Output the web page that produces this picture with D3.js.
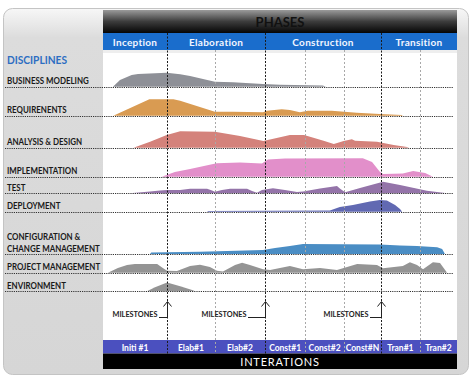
<!DOCTYPE html>
<html><head><meta charset="utf-8">
<script src="https://cdn.jsdelivr.net/npm/d3@7"></script>
<style>
html,body{margin:0;padding:0;background:#fff;}
svg{display:block;font-family:Lato,"Open Sans",sans-serif;}
</style></head>
<body><svg id="c" width="474" height="383"></svg>
<script>
// ---------- DATA ----------
const phases = ["Inception","Elaboration","Construction","Transition"];
const phaseBounds = [0, 18.1, 45.8, 78.5, 100];           // time units
const iterations = ["Initi #1","Elab#1","Elab#2","Const#1","Const#2","Const#N","Tran#1","Tran#2"];
const iterationBounds = [0, 18.1, 31.6, 45.8, 57.1, 68.1, 78.5, 89.5, 100];
const milestones = [18.1, 45.8, 78.5];
const disciplines = ["BUSINESS MODELING","REQUIRENENTS","ANALYSIS & DESIGN","IMPLEMENTATION","TEST","DEPLOYMENT","CONFIGURATION &\nCHANGE MANAGEMENT","PROJECT MANAGEMENT","ENVIRONMENT"];
const colors = ["#8e9097","#d99b52","#d4827b","#e28fca","#9474a9","#6169b2","#4a8dc4","#949494","#949494"];

// effort curves: [time, effort]
const businessModeling = [[2.8,0],[4.8,3.35],[8.1,5.85],[9.9,6.35],[18,7],[21.8,6.2],[24.6,5.35],[31.6,2.5],[36.7,2.2],[45.2,1.35],[50,1],[62.1,0.65],[63,0]];
const requirements = [[2.9,0],[13.1,8.2],[19.9,8.2],[21.8,7.5],[31.6,2],[36.7,2],[45.2,1.7],[46.3,2.5],[50.5,3.2],[52.8,2.85],[55.6,1.7],[57.9,2.5],[64.6,2.5],[71.7,1.5],[78.2,0.85],[84.4,0.35],[84.7,0]];
const analysisDesign = [[8.6,0],[13.3,3],[18,6.35],[21.8,8.2],[31.6,8],[38.7,5.85],[45.3,3.35],[50,5.2],[52.8,6.35],[56.8,6.35],[62.3,3.5],[65.2,1.85],[68,3.35],[70.3,4.2],[71.2,3.5],[77.4,3],[82.1,1.35],[85.9,0.35],[86.4,0]];
const implementation = [[16.6,0],[20.3,2.35],[24.6,3.85],[32.1,6.7],[38.7,7.1],[44.9,6.6],[46.6,8.6],[51.4,9.1],[73.4,9.2],[76,7.35],[78.2,2.5],[79.1,1.35],[84.7,1.6],[87.6,2.85],[91,1.85],[93.2,0]];
const test = [[7.6,0],[13.3,0.9],[16.1,1.4],[18.1,1.65],[21.8,1.65],[24.6,2.3],[29.4,2.3],[30.8,1.4],[31.6,0.8],[33.6,1.65],[35.9,2.3],[40.7,2.3],[42.1,1.15],[43.5,0.3],[44.9,1.65],[48,2.5],[51.4,1.65],[54.8,0.65],[56.5,0.9],[61.3,2.4],[66.1,3.65],[66.9,2.4],[68.4,0.5],[72.6,2.65],[79.1,5.8],[83.9,4.15],[91.5,1.3],[97.2,0]];
const deployment = [[29.4,0],[29.7,0.35],[64.1,0.6],[66.9,2.35],[70.6,3.35],[75.4,5.1],[78.2,5.85],[80.2,5.6],[82.5,3.35],[83.9,1.35],[84.5,0]];
const configChange = [[13.3,0],[13.6,0.75],[18.1,0.85],[27.4,1.15],[45.2,2],[48.6,3],[52.8,4],[56.5,5],[78.2,4.75],[83.9,4.25],[88.7,4],[94.4,3.35],[95.8,2.5],[96.6,0]];
const projectManagement = [[1.4,0],[4.2,2.35],[6.8,3.85],[9,4.35],[15.3,4.35],[16.9,2.35],[18.1,1],[20.9,0.85],[24.6,3.35],[27.4,4],[30.2,2.85],[32.2,1],[33.9,0.6],[37.3,3.85],[39.3,5],[41.5,3.85],[45.2,1.7],[47.2,1.35],[50,2.35],[52.8,3.35],[56.5,1.7],[61.3,2.35],[66.1,1.35],[71.8,4.35],[77.4,3.85],[79.1,2.2],[84.7,3.35],[86.7,5.2],[88.7,3.85],[90.4,1.7],[93.2,5.2],[95.2,4.85],[97.2,0]];
const environment = [[12.4,0],[14.7,2],[18.1,4.35],[21.8,2.5],[25.4,0.5],[26,0]];
const series = [businessModeling, requirements, analysisDesign, implementation, test, deployment, configChange, projectManagement, environment];

// ---------- LAYOUT ----------
const rowBase = [86.7,115.7,147.7,176.7,193.3,211.7,254,272.7,291.3];
const milestoneGap = [10,19,13];
const svg = d3.select("#c");
const x = d3.scaleLinear().domain([0,100]).range([103,457]);
const h = d3.scaleLinear().domain([0,10]).range([0,20]);

const defs = svg.append("defs");
const g1 = defs.append("linearGradient").attr("id","panelG").attr("x1",0).attr("y1",0).attr("x2",0).attr("y2",1);
g1.append("stop").attr("offset",0).attr("stop-color","#f7f7f7");
g1.append("stop").attr("offset",0.08).attr("stop-color","#dcdcdc");
g1.append("stop").attr("offset",1).attr("stop-color","#d6d6d6");
const g2 = defs.append("linearGradient").attr("id","headG").attr("x1",0).attr("y1",0).attr("x2",0).attr("y2",1);
g2.append("stop").attr("offset",0).attr("stop-color","#9a9a9a");
g2.append("stop").attr("offset",0.5).attr("stop-color","#3c3c3c");
g2.append("stop").attr("offset",1).attr("stop-color","#050505");

// panel
svg.append("rect").attr("x",3.5).attr("y",8.5).attr("width",465).attr("height",366).attr("rx",9)
  .attr("fill","url(#panelG)").attr("stroke","#c4c4c4");
// chart white area
svg.append("rect").attr("x",x(0)).attr("y",33).attr("width",x(100)-x(0)).attr("height",322).attr("fill","#fff");
// header
svg.append("rect").attr("x",x(0)).attr("y",10).attr("width",x(100)-x(0)).attr("height",23).attr("fill","url(#headG)");
svg.append("text").attr("x",(x(0)+x(100))/2).attr("y",27).attr("text-anchor","middle")
  .attr("font-size",13).attr("font-weight","bold").attr("fill","#111").text("PHASES");
// phase bar
svg.append("rect").attr("x",x(0)).attr("y",33).attr("width",x(100)-x(0)).attr("height",17).attr("fill","#1a6dcc");
svg.append("rect").attr("x",x(0)).attr("y",50).attr("width",x(100)-x(0)).attr("height",3).attr("fill","#eeeeee");
phases.forEach((p,i)=>{
  svg.append("text").attr("x",(x(phaseBounds[i])+x(phaseBounds[i+1]))/2).attr("y",45.5)
    .attr("text-anchor","middle").attr("font-size",10).attr("font-weight","bold").attr("fill","#f2f6ff")
    .attr("letter-spacing",0.3).text(p);
});

// iteration bars
svg.append("rect").attr("x",x(0)).attr("y",340).attr("width",x(100)-x(0)).attr("height",13.5).attr("fill","#4b50bf");
svg.append("rect").attr("x",x(0)).attr("y",353.5).attr("width",x(100)-x(0)).attr("height",15.5).attr("fill","#000");
iterations.forEach((it,i)=>{
  svg.append("text").attr("x",(x(iterationBounds[i])+x(iterationBounds[i+1]))/2).attr("y",350.5)
    .attr("text-anchor","middle").attr("font-size",8.5).attr("font-weight","bold").attr("fill","#fff").text(it);
});
svg.append("text").attr("x",(x(0)+x(100))/2).attr("y",365.5).attr("text-anchor","middle")
  .attr("font-size",11).attr("fill","#fff").attr("letter-spacing",0.8).text("INTERATIONS");

// areas
series.forEach((s,i)=>{
  const b = rowBase[i];
  const area = d3.area().x(d=>x(d[0])).y0(b).y1(d=>b - h(d[1]));
  svg.append("path").attr("d",area(s)).attr("fill",colors[i]);
});

// vertical grid
iterationBounds.slice(1,-1).forEach(t=>{
  const isPhase = milestones.includes(t);
  svg.append("line").attr("x1",Math.round(x(t))+0.5).attr("x2",Math.round(x(t))+0.5)
    .attr("y1",isPhase?33:50).attr("y2",354)
    .attr("stroke",isPhase?"#1a1a1a":"#a8a8a8").attr("stroke-width",1)
    .attr("stroke-dasharray",isPhase?"2,1.5":"2,2");
});

// baselines
rowBase.forEach(b=>{
  svg.append("line").attr("x1",5).attr("x2",453).attr("y1",Math.round(b)+0.5).attr("y2",Math.round(b)+0.5)
    .attr("stroke","#333").attr("stroke-width",1).attr("stroke-dasharray","1.2,1");
});

// labels
svg.append("text").attr("x",7).attr("y",64).attr("font-size",12).attr("font-weight","bold")
  .attr("fill","#2c6dc2").attr("textLength",60).attr("lengthAdjust","spacingAndGlyphs").text("DISCIPLINES");
disciplines.forEach((d,i)=>{
  const lines = d.split("\n");
  lines.forEach((ln,j)=>{
    const t = svg.append("text").attr("x",7).attr("y",rowBase[i]-2.5-(lines.length-1-j)*11.5)
      .attr("font-size",8.8).attr("fill","#1a1a1a").attr("font-weight","bold").text(ln);
    const w = t.node().getComputedTextLength();
    t.attr("textLength",w*0.9).attr("lengthAdjust","spacingAndGlyphs");
  });
});

// milestones
milestones.forEach((m,i)=>{
  const xm = Math.round(x(m))+0.5;
  svg.append("text").attr("x",xm-milestoneGap[i]).attr("y",317).attr("text-anchor","end")
    .attr("font-size",7.3).attr("font-weight","bold").attr("fill","#222").text("MILESTONES");
  svg.append("path").attr("d",`M${xm-milestoneGap[i]+1.5},317.5H${xm}V302`).attr("fill","none").attr("stroke","#222");
  svg.append("path").attr("d",`M${xm-4},306.5L${xm},301.5L${xm+4},306.5`).attr("fill","none").attr("stroke","#222");
});
</script></body></html>
